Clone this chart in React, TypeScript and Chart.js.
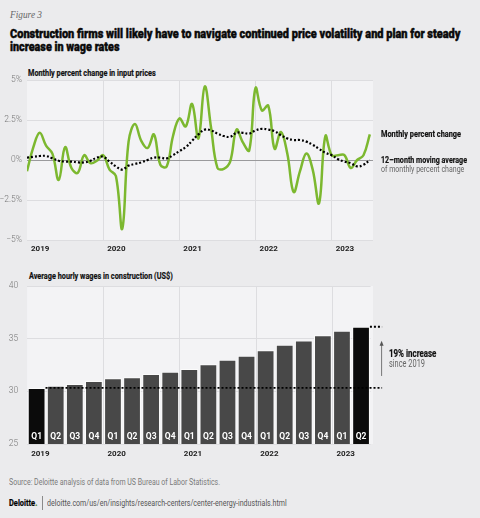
import React, { useEffect, useLayoutEffect, useRef } from 'react';
import { Chart, registerables } from 'chart.js';

Chart.register(...registerables);

// ---------- data ----------
const yearLabels = ['2019', '2020', '2021', '2022', '2023'];
const yearTickMonths = [0, 12, 24, 36, 48];
const pctTickValues = [-5, -2.5, 0, 2.5, 5];
const pctTickLabels = ['\u22125%', '\u22122.5%', '0%', '2.5%', '5%'];

// Jan 2019 .. Jul 2023, monthly % change in input prices
const monthlyChange = [
  -0.7, 0.8, 1.7, 0.9, 0.4, -1.25, 0.8, -0.5, -0.8, 0.3, -0.2, -0.05,
  0.3, -0.6, -1.0, -4.3, 1.15, 2.25, 1.2, 0.75, 1.6, -0.3, -0.4, 1.5,
  2.6, 2.1, 3.5, 1.35, 4.6, 2.0, -0.5, -0.55, -0.1, 1.9, 1.1, 0.6,
  4.5, 3.1, 3.4, 0.7, 1.75, 0.4, -2.0, -0.7, 0.4, -0.6, -2.7, 1.5,
  0.3, 0.3, 0.3, -0.5, 0.0, 0.3, 1.6,
];

// 12-month moving average of monthly % change
const movingAverage = [
  0.15, 0.2, 0.25, 0.25, 0.1, -0.05, -0.1, -0.1, -0.15, -0.15, -0.05, 0.15,
  0.2, -0.1, -0.4, -0.6, -0.35, -0.25, -0.15, 0.0, 0.15, 0.15, 0.1, 0.3,
  0.55, 0.8, 1.2, 1.6, 1.9, 1.85, 1.65, 1.5, 1.45, 1.7, 1.7, 1.65,
  1.85, 1.95, 1.9, 1.8, 1.55, 1.35, 1.25, 1.25, 1.15, 0.95, 0.7, 0.45,
  0.3, 0.05, -0.1, -0.2, -0.4, -0.3, 0.0,
];

const wageQuarters = ['Q1', 'Q2', 'Q3', 'Q4', 'Q1', 'Q2', 'Q3', 'Q4', 'Q1', 'Q2', 'Q3', 'Q4', 'Q1', 'Q2', 'Q3', 'Q4', 'Q1', 'Q2'];
const wageYears = [2019, 2019, 2019, 2019, 2020, 2020, 2020, 2020, 2021, 2021, 2021, 2021, 2022, 2022, 2022, 2022, 2023, 2023];
const hourlyWages = [30.32, 30.54, 30.7, 30.99, 31.24, 31.33, 31.65, 31.85, 32.13, 32.57, 32.99, 33.37, 33.9, 34.42, 34.83, 35.33, 35.75, 36.13];
const wageTickValues = [25, 30, 35, 40];
const wageTickLabels = ['25', '30', '35', '40'];

// ---------- style ----------
const BG = '#ebebed';
const PANEL = '#f3f3f5';
const GRID = '#dddde0';
const GREEN = '#7cb82f';
const SANS = 'Roboto, "Noto Sans", "DejaVu Sans", sans-serif';
const TRANSPARENT = 'rgba(0,0,0,0)';

function panelPlugin(extraRight: number) {
  return {
    id: 'panelBg',
    beforeDraw(chart: any) {
      const { ctx, chartArea } = chart;
      ctx.save();
      ctx.fillStyle = PANEL;
      ctx.fillRect(chartArea.left, chartArea.top, chartArea.right - chartArea.left + extraRight, chartArea.bottom - chartArea.top);
      ctx.restore();
    },
  };
}

type FitProps = {
  x: number; y: number; w: number; size: number; weight?: number | string;
  color?: string; family?: string; italic?: boolean; stroke?: number; children: React.ReactNode;
};

function FitText({ x, y, w, size, weight = 400, color = '#111', family = SANS, italic = false, stroke = 0, children }: FitProps) {
  const ref = useRef<HTMLSpanElement>(null);
  useLayoutEffect(() => {
    const fit = () => {
      const el = ref.current;
      if (!el) return;
      el.style.transform = 'none';
      const nat = el.getBoundingClientRect().width;
      if (nat > 0) el.style.transform = `scaleX(${w / nat})`;
    };
    fit();
    if ((document as any).fonts && (document as any).fonts.ready) {
      (document as any).fonts.ready.then(fit);
    }
  }, [w, children]);
  const style: any = {
    position: 'absolute', left: x, top: y, whiteSpace: 'nowrap', transformOrigin: '0 50%',
    fontSize: size, lineHeight: 1, fontWeight: weight as any, color, fontFamily: family,
    fontStyle: italic ? 'italic' : 'normal',
  };
  if (stroke > 0) {
    style.WebkitTextStroke = `${stroke}px ${color}`;
  }
  return (
    <span ref={ref} style={style}>
      {children}
    </span>
  );
}

export default function App() {
  const topRef = useRef<HTMLCanvasElement>(null);
  const botRef = useRef<HTMLCanvasElement>(null);

  useEffect(() => {
    document.body.style.margin = '0';
    const tickFont = { family: SANS, size: 8.5, weight: 300 as any };
    const yearFont = { family: SANS, size: 8, weight: 'bold' as any };

    const topChart = new Chart(topRef.current as HTMLCanvasElement, {
      type: 'line',
      data: {
        datasets: [
          {
            label: '12-month moving average',
            data: movingAverage.map((v, i) => ({ x: i, y: v })),
            borderColor: '#000',
            borderWidth: 2.2,
            borderDash: [2, 2],
            pointRadius: 0,
            tension: 0.4,
            order: 0,
          },
          {
            label: 'Monthly percent change',
            data: monthlyChange.map((v, i) => ({ x: i, y: v })),
            borderColor: GREEN,
            borderWidth: 2.5,
            pointRadius: 0,
            tension: 0.4,
            order: 1,
          },
        ],
      },
      options: {
        animation: false,
        responsive: false,
        layout: { padding: { top: 20, right: 107, left: 0, bottom: 0 } },
        plugins: { legend: { display: false }, tooltip: { enabled: false } },
        scales: {
          x: {
            type: 'linear',
            min: 0,
            max: 54.5,
            afterBuildTicks: (s: any) => { s.ticks = yearTickMonths.map((v) => ({ value: v })); },
            afterFit: (s: any) => { s.height = 20; },
            ticks: {
              autoSkip: false, maxRotation: 0, align: 'start', labelOffset: 4, padding: 4,
              font: yearFont, color: '#222',
              callback: (_v: any, i: number) => yearLabels[i],
            },
            grid: {
              drawTicks: false,
              color: (c: any) => (c.tick && c.tick.value === 0 ? TRANSPARENT : GRID),
            },
            border: { display: false },
          },
          y: {
            min: -5,
            max: 5,
            afterBuildTicks: (s: any) => { s.ticks = pctTickValues.map((v) => ({ value: v })); },
            afterFit: (s: any) => { s.width = 27; },
            ticks: {
              padding: 5, font: tickFont, color: '#777',
              callback: (_v: any, i: number) => pctTickLabels[i],
            },
            grid: {
              drawTicks: false,
              color: (c: any) => (c.tick && c.tick.value === 0 ? '#9a9a9c' : GRID),
            },
            border: { display: false },
          },
        },
      } as any,
      plugins: [panelPlugin(0)],
    });

    const last = hourlyWages.length - 1;
    const annotate = {
      id: 'wageAnnotations',
      afterDatasetsDraw(chart: any) {
        const { ctx, chartArea, scales } = chart;
        const meta = chart.getDatasetMeta(0);
        ctx.save();
        // quarter labels inside bars
        ctx.fillStyle = '#ffffff';
        ctx.font = `bold 8.5px ${SANS}`;
        ctx.textAlign = 'center';
        ctx.textBaseline = 'middle';
        meta.data.forEach((el: any, i: number) => {
          ctx.fillText(wageQuarters[i], el.x, scales.y.bottom - 7);
        });
        // dotted reference lines
        const first = meta.data[0];
        const lastEl = meta.data[last];
        const xEnd = chartArea.right + 11.5;
        ctx.strokeStyle = '#000';
        ctx.lineWidth = 1.8;
        ctx.setLineDash([2, 2]);
        ctx.beginPath();
        ctx.moveTo(first.x + first.width / 2, first.y);
        ctx.lineTo(xEnd, first.y);
        ctx.moveTo(lastEl.x + lastEl.width / 2, lastEl.y);
        ctx.lineTo(xEnd, lastEl.y);
        ctx.stroke();
        // arrow
        ctx.setLineDash([]);
        const ax = chartArea.right + 11;
        const yb = first.y - 12;
        const yt = lastEl.y + 15;
        ctx.strokeStyle = '#777';
        ctx.lineWidth = 1;
        ctx.beginPath();
        ctx.moveTo(ax, yb);
        ctx.lineTo(ax, yt + 2);
        ctx.stroke();
        ctx.fillStyle = '#555';
        ctx.beginPath();
        ctx.moveTo(ax, yt - 1);
        ctx.lineTo(ax - 2, yt + 4);
        ctx.lineTo(ax + 2, yt + 4);
        ctx.closePath();
        ctx.fill();
        ctx.restore();
      },
    };

    const botChart = new Chart(botRef.current as HTMLCanvasElement, {
      type: 'bar',
      data: {
        labels: wageQuarters.map((q, i) => `${q} ${wageYears[i]}`),
        datasets: [
          {
            label: 'Average hourly wages',
            data: hourlyWages,
            backgroundColor: hourlyWages.map((_, i) => (i === 0 || i === last ? '#0b0b0b' : '#484848')),
            borderColor: '#fbfbfb',
            borderWidth: 1,
            barPercentage: 0.93,
            categoryPercentage: 1,
          },
        ],
      },
      options: {
        animation: false,
        responsive: false,
        layout: { padding: { top: 24, right: 109.4, left: 0, bottom: 0 } },
        plugins: { legend: { display: false }, tooltip: { enabled: false } },
        scales: {
          x: {
            afterFit: (s: any) => { s.height = 18; },
            ticks: {
              autoSkip: false, maxRotation: 0, align: 'start', labelOffset: -5.5, padding: 5,
              font: yearFont, color: '#222',
              callback: (_v: any, i: number) => (i % 4 === 0 ? String(wageYears[i]) : ''),
            },
            grid: {
              offset: true,
              drawTicks: false,
              color: (c: any) => (c.index > 0 && c.index % 4 === 0 ? GRID : TRANSPARENT),
            },
            border: { display: false },
          },
          y: {
            min: 25,
            max: 40,
            afterBuildTicks: (s: any) => { s.ticks = wageTickValues.map((v) => ({ value: v })); },
            afterFit: (s: any) => { s.width = 27.1; },
            ticks: {
              padding: 9, font: tickFont, color: '#777',
              callback: (_v: any, i: number) => wageTickLabels[i],
            },
            grid: { drawTicks: false, color: GRID },
            border: { display: false },
          },
        },
      } as any,
      plugins: [panelPlugin(2.4), annotate],
    });

    return () => {
      topChart.destroy();
      botChart.destroy();
    };
  }, []);

  return (
    <div style={{ position: 'absolute', left: 0, top: 0, width: 480, height: 518, background: BG, overflow: 'hidden' }}>
      <FitText x={10} y={9} w={32} size={11} italic family='"Liberation Serif", "DejaVu Serif", serif' color="#666">Figure 3</FitText>
      <FitText x={9.5} y={26.5} w={450.5} size={13} weight={900} stroke={0.45} color="#0a0a0a">
        Construction firms will likely have to navigate continued price volatility and plan for steady
      </FitText>
      <FitText x={9.5} y={40} w={109.5} size={13} weight={900} stroke={0.45} color="#0a0a0a">increase in wage rates</FitText>

      <FitText x={28.3} y={67.8} w={127.7} size={9.5} weight={700} stroke={0.2} color="#111">Monthly percent change in input prices</FitText>

      <canvas ref={topRef} width={480} height={200} style={{ position: 'absolute', left: 0, top: 60, width: 480, height: 200 }} />

      <FitText x={380.7} y={129.3} w={80} size={9.5} weight={700} stroke={0.2} color="#111">Monthly percent change</FitText>
      <FitText x={380.7} y={154.5} w={86} size={9.5} weight={700} stroke={0.2} color="#111">12–month moving average</FitText>
      <FitText x={380.7} y={164} w={83.3} size={9.5} weight={400} color="#666">of monthly percent change</FitText>

      <FitText x={29} y={271} w={143.7} size={9.5} weight={700} stroke={0.2} color="#111">Average hourly wages in construction (US$)</FitText>

      <canvas ref={botRef} width={480} height={200} style={{ position: 'absolute', left: 0, top: 262, width: 480, height: 200 }} />

      <FitText x={389.3} y={349} w={47.4} size={10} weight={700} stroke={0.2} color="#111">19% increase</FitText>
      <FitText x={389.3} y={359} w={36} size={10} weight={400} color="#666">since 2019</FitText>

      <FitText x={9} y={478.2} w={211} size={9} weight={400} color="#7a7a7a">
        Source: Deloitte analysis of data from US Bureau of Labor Statistics.
      </FitText>
      <FitText x={9} y={498} w={28.3} size={9.5} weight={700} stroke={0.2} color="#000">
        Deloitte<span style={{ color: GREEN }}>.</span>
      </FitText>
      <div style={{ position: 'absolute', left: 42, top: 496, width: 1, height: 14, background: '#8a8a8a' }} />
      <FitText x={47} y={498} w={239.7} size={9.5} weight={400} color="#555">
        deloitte.com/us/en/insights/research-centers/center-energy-industrials.html
      </FitText>
    </div>
  );
}
